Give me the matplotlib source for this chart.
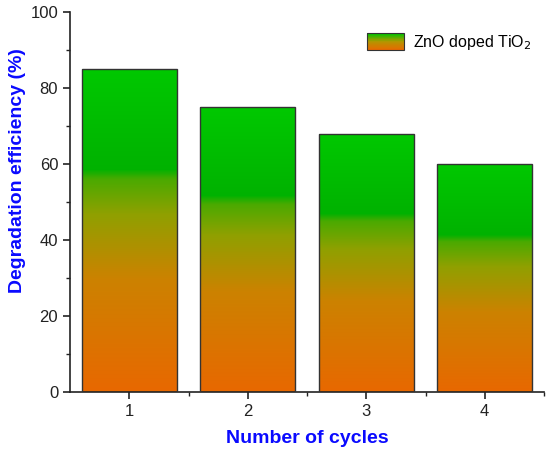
import matplotlib.pyplot as plt
import numpy as np
from matplotlib.colors import LinearSegmentedColormap
from matplotlib.patches import Rectangle
from matplotlib.legend_handler import HandlerPatch

plt.rcParams['font.family'] = ['Liberation Sans', 'DejaVu Sans']

cycles = [1, 2, 3, 4]
efficiency = [85, 75, 68, 60]
series_label = "ZnO doped TiO$_2$"

# orange at the bottom, green from about 2/3 of the bar upward
grad = LinearSegmentedColormap.from_list("og", [
    (0.0, "#e86800"),
    (0.35, "#cc8200"),
    (0.55, "#90a000"),
    (0.66, "#4aaa00"),
    (0.69, "#00b200"),
    (1.0, "#00c800"),
])
# legend swatch blends smoothly
grad_leg = LinearSegmentedColormap.from_list("og_leg", ["#e86800", "#b49600", "#00c400"])


class GradientHandler(HandlerPatch):
    def create_artists(self, legend, orig_handle, xdescent, ydescent,
                       width, height, fontsize, trans):
        arts = []
        n = 30
        for i in range(n):
            r = Rectangle((-xdescent, -ydescent + height * i / n), width, height / n + 0.3,
                          facecolor=grad_leg((i + 0.5) / n), edgecolor="none",
                          transform=trans)
            arts.append(r)
        arts.append(Rectangle((-xdescent, -ydescent), width, height, facecolor="none",
                              edgecolor="#333333", lw=0.8, transform=trans))
        return arts


fig = plt.figure(figsize=(5.5, 4.54), dpi=100)
ax = fig.add_axes([70 / 550, 62 / 454, 474 / 550, 380 / 454])

width = 0.8
grad_img = np.linspace(0, 1, 256).reshape(-1, 1)
for x, h in zip(cycles, efficiency):
    bar = ax.bar(x, h, width=width, facecolor="none", edgecolor="#333333", lw=1.0, zorder=3)[0]
    im = ax.imshow(grad_img, cmap=grad, origin="lower", aspect="auto",
                   extent=[x - width / 2, x + width / 2, 0, h], zorder=2)
    im.set_clip_path(bar)

proxy = Rectangle((0, 0), 1, 1)
ax.legend([proxy], [series_label], handler_map={Rectangle: GradientHandler()},
          loc="upper left", bbox_to_anchor=(367 / 550, 1 - 33 / 454),
          bbox_transform=fig.transFigure, frameon=False, borderpad=0, borderaxespad=0,
          fontsize=11.5, handlelength=2.3, handleheight=1.2, handletextpad=0.55)

ax.set_xlim(0.5, 4.5)
ax.set_ylim(0, 100)
ax.set_xticks(cycles)
ax.set_xticks([1.5, 2.5, 3.5, 4.5], minor=True)
ax.set_yticks([0, 20, 40, 60, 80, 100])
ax.set_yticks([10, 30, 50, 70, 90], minor=True)
ax.spines["top"].set_visible(False)
ax.spines["right"].set_visible(False)
for s in ["left", "bottom"]:
    ax.spines[s].set_linewidth(1.2)
    ax.spines[s].set_color("#222222")
ax.tick_params(which="major", direction="out", length=5, width=1.2, labelsize=12, colors="#222222")
ax.tick_params(which="minor", direction="out", length=3, width=1.0, colors="#222222")

ax.set_xlabel("Number of cycles", color="#0a0aff", fontsize=14, fontweight="bold", labelpad=8)
ax.set_ylabel("Degradation efficiency (%)", color="#0a0aff", fontsize=14, fontweight="bold")
ax.yaxis.set_label_coords(-0.092, 0.584)

fig.savefig("out.png", dpi=100)
